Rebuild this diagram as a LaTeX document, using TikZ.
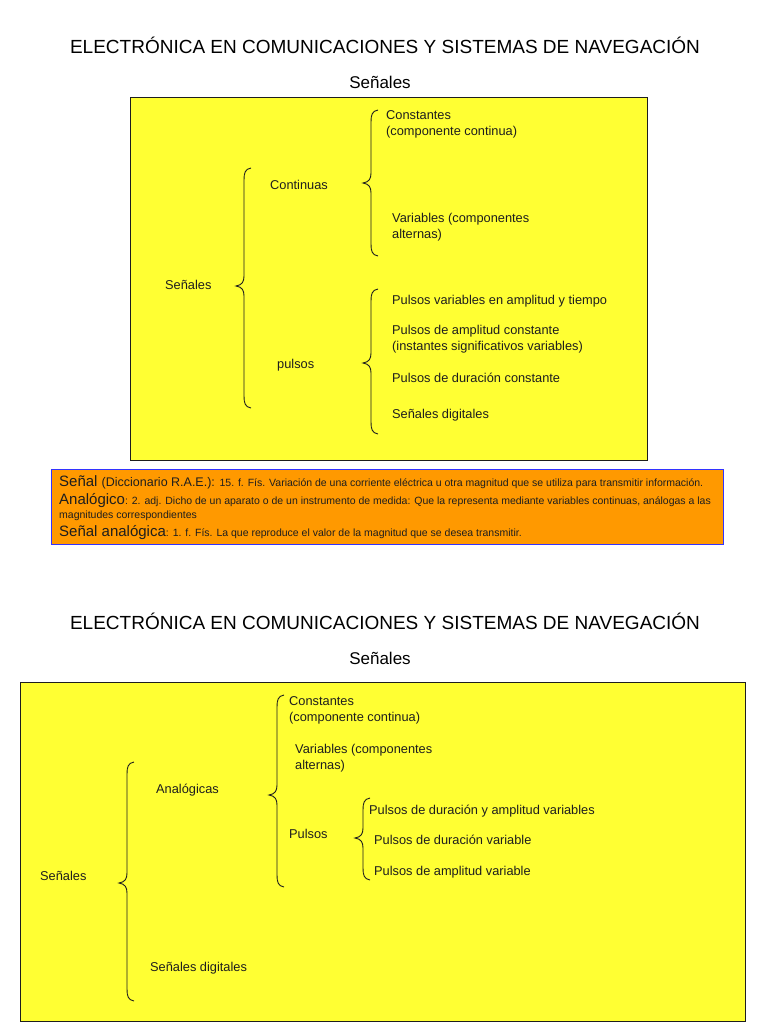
\documentclass[tikz,border=0pt]{standalone}
\usepackage{fontspec}
\setmainfont{Liberation Sans}
\definecolor{boxyellow}{RGB}{255,255,51}
\definecolor{boxorange}{RGB}{255,153,0}
\definecolor{boxblue}{RGB}{51,51,255}
\definecolor{ink}{RGB}{30,30,30}
\newcommand\mybrace[4]{%
 \draw[bracestyle] ({#1+7},#2) .. controls ({#1+1},{#2+1}) and (#1,{#2+5}) .. (#1,{#2+12})
   -- (#1,{#3-10}) .. controls (#1,{#3-4}) and ({#1-2},{#3-1}) .. ({#1-8},#3)
   .. controls ({#1-2},{#3+1}) and (#1,{#3+4}) .. (#1,{#3+10})
   -- (#1,{#4-12}) .. controls (#1,{#4-5}) and ({#1+1},{#4-1}) .. ({#1+7},#4);}
\tikzset{
  bracestyle/.style={draw=ink, line width=0.9pt},
  title/.style={font=\fontsize{19}{19}\selectfont, anchor=base, inner sep=0pt},
  subtitle/.style={font=\fontsize{17}{17}\selectfont, anchor=base, inner sep=0pt},
  lbl/.style={font=\fontsize{12.8}{12.8}\selectfont, anchor=mid west, inner sep=0pt, text=ink},
  defline/.style={anchor=base west, inner sep=0pt, text=ink},
  yellowbox/.style={fill=boxyellow, draw=ink, line width=0.9pt},
  orangebox/.style={fill=boxorange, draw=boxblue, line width=1pt}
}
\newcommand\bigf{\fontsize{15}{15}\selectfont}
\newcommand\midf{\fontsize{12.5}{12.5}\selectfont}
\newcommand\smallf{\fontsize{10.5}{10.5}\selectfont}
\begin{document}
\begin{tikzpicture}[x=1pt,y=-1pt]
\useasboundingbox[fill=white] (0,0) rectangle (768,1024);

% ---------- first slide ----------
\node[title] (t1) at (385,54) {ELECTRÓNICA EN COMUNICACIONES Y SISTEMAS DE NAVEGACIÓN};
\node[subtitle] (s1) at (380,88.5) {Señales};
\draw[yellowbox] (130,97) rectangle (647,460);

\node[lbl] (a1) at (386,116.5) {Constantes};
\node[lbl] (a2) at (386,132.5) {(componente continua)};
\node[lbl] (a3) at (270,186.5) {Continuas};
\node[lbl] (a4) at (392,219.5) {Variables (componentes};
\node[lbl] (a5) at (392,235.5) {alternas)};
\node[lbl] (a6) at (165,286.5) {Señales};
\node[lbl] (a7) at (392,301.5) {Pulsos variables en amplitud y tiempo};
\node[lbl] (a8) at (392,331.5) {Pulsos de amplitud constante};
\node[lbl] (a9) at (392,347.5) {(instantes significativos variables)};
\node[lbl] (a10) at (277,365.5) {pulsos};
\node[lbl] (a11) at (392,379.5) {Pulsos de duración constante};
\node[lbl] (a12) at (392,415.5) {Señales digitales};

\mybrace{244}{168}{286}{408}
\mybrace{371}{110}{183}{256}
\mybrace{371}{289}{363}{434}

% ---------- definitions ----------
\draw[orangebox] (51,469) rectangle (723,544);
\node[defline] (d1) at (59,486) {\bigf Señal \midf(Diccionario R.A.E.): \smallf 15. f. Fís. Variación de una corriente eléctrica u otra magnitud que se utiliza para transmitir información.};
\node[defline] (d2) at (59,504) {\bigf Analógico\smallf: 2. adj. Dicho de un aparato o de un instrumento de medida: Que la representa mediante variables continuas, análogas a las};
\node[defline] (d3) at (59,518) {\smallf magnitudes correspondientes};
\node[defline] (d4) at (59,536) {\bigf Señal analógica\smallf: 1. f. Fís. La que reproduce el valor de la magnitud que se desea transmitir.};

% ---------- second slide ----------
\node[title] (t2) at (385,629) {ELECTRÓNICA EN COMUNICACIONES Y SISTEMAS DE NAVEGACIÓN};
\node[subtitle] (s2) at (380,664.5) {Señales};
\draw[yellowbox] (20,682) rectangle (745,1021);

\node[lbl] (b1) at (289,702.5) {Constantes};
\node[lbl] (b2) at (289,718.5) {(componente continua)};
\node[lbl] (b3) at (295,750.5) {Variables (componentes};
\node[lbl] (b4) at (295,766.5) {alternas)};
\node[lbl] (b5) at (156,790.5) {Analógicas};
\node[lbl] (b6) at (369,811.5) {Pulsos de duración y amplitud variables};
\node[lbl] (b7) at (289,835.5) {Pulsos};
\node[lbl] (b8) at (374,841.5) {Pulsos de duración variable};
\node[lbl] (b9) at (374,872.5) {Pulsos de amplitud variable};
\node[lbl] (b10) at (40,877.5) {Señales};
\node[lbl] (b11) at (150,968.5) {Señales digitales};

\mybrace{127}{762}{883}{1001}
\mybrace{277}{695}{795}{887}
\mybrace{363}{798}{838}{880}
\end{tikzpicture}
\end{document}
